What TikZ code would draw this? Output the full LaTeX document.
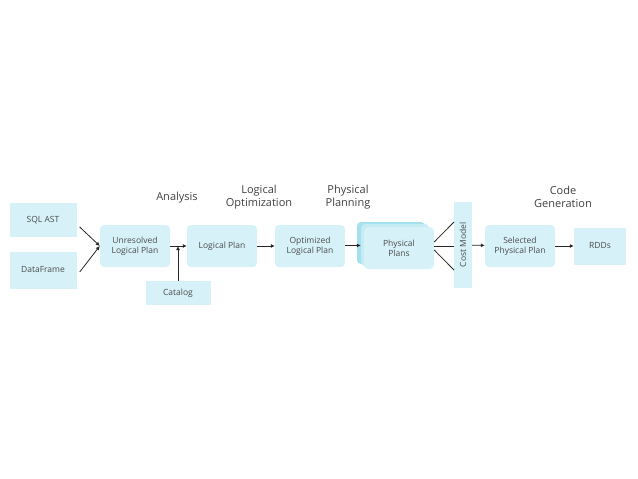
\documentclass[tikz,border=0pt]{standalone}
\usepackage{fontspec}
\setmainfont{Open Sans}
\usetikzlibrary{arrows.meta}
\definecolor{boxfill}{HTML}{D6F1F8}
\definecolor{stackfill}{HTML}{7FD3E6}
\tikzset{
  stage/.style={fill=boxfill, rounded corners=4pt, minimum width=70pt, minimum height=42pt, align=center, font=\fontsize{8.5}{10}\selectfont, text=black!70},
  plain/.style={fill=boxfill, align=center, font=\fontsize{8.5}{10}\selectfont, text=black!70},
  phase/.style={align=center, font=\fontsize{11}{12.5}\selectfont, text=black!75},
  flow/.style={-{Latex[length=4pt,width=4pt]}, thick, black!85}
}
\begin{document}
\begin{tikzpicture}[x=1pt, y=-1pt]
\useasboundingbox (0,0) rectangle (638,479);

\node[plain, minimum width=67pt, minimum height=34pt] (sql) at (43,220) {SQL AST};
\node[plain, minimum width=67pt, minimum height=37pt] (df) at (43,270) {DataFrame};
\node[stage] (unres) at (135,246) {Unresolved\\Logical Plan};
\node[stage] (logical) at (222,246) {Logical Plan};
\node[plain, minimum width=65pt, minimum height=24pt] (catalog) at (178,293) {Catalog};
\node[stage] (opt) at (310,246) {Optimized\\Logical Plan};
\node[fill=stackfill!70, rounded corners=4pt, minimum width=68pt, minimum height=42pt] (back2) at (391,243) {};
\node[fill=stackfill!45, rounded corners=4pt, minimum width=68pt, minimum height=42pt] (back1) at (395,245) {};
\node[stage] (phys) at (399,248) {Physical\\Plans};
\node[plain, minimum width=18pt, minimum height=86pt] (cost) at (463,245) {};
\node[rotate=90, font=\fontsize{8.5}{10}\selectfont, text=black!70] (costlbl) at (cost) {Cost Model};
\node[stage] (sel) at (520,246) {Selected\\Physical Plan};
\node[plain, minimum width=52pt, minimum height=37pt] (rdd) at (600,246) {RDDs};

\node[phase] (analysis) at (177,198) {Analysis};
\node[phase] (lopt) at (259,197) {Logical\\Optimization};
\node[phase] (pplan) at (348,197) {Physical\\Planning};
\node[phase] (codegen) at (563,197) {Code\\Generation};

\coordinate (c1) at (454,222);
\coordinate (c2) at (454,246);
\coordinate (c3) at (454,270);

\draw[flow] (sql.east) ++(3,7) -- (unres.west);
\draw[flow] (df.east) ++(3,2) -- (unres.west);
\draw[flow] (unres) -- (logical);
\draw[flow] (catalog.north) -- (catalog.north |- unres.east);
\draw[flow] (logical) -- (opt);
\draw[flow] (opt) -- (back1);
\draw[thick, black!85] (phys.east) ++(0,-6) -- (c1);
\draw[thick, black!85] (phys.east) ++(0,-2) -- (c2);
\draw[thick, black!85] (phys.east) ++(0,2) -- (c3);
\draw[flow] (cost) -- (sel);
\draw[flow] (sel) -- (rdd);
\end{tikzpicture}
\end{document}
